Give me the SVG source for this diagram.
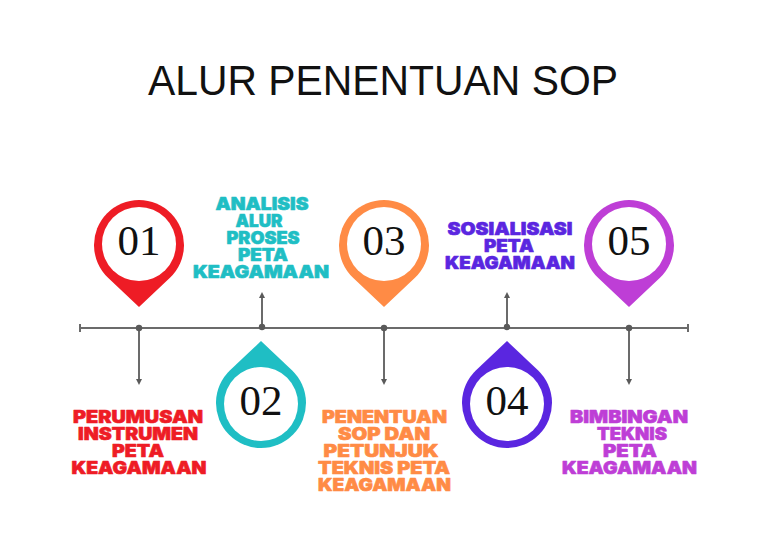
<svg xmlns="http://www.w3.org/2000/svg" xmlns:xlink="http://www.w3.org/1999/xlink" width="768" height="543" viewBox="0 0 768 543">
<style>
.title{font-family:"Liberation Sans",Arial,sans-serif;font-size:43px;fill:#111;}
.num{font-family:"Liberation Serif","Times New Roman",serif;font-size:43px;fill:#111;text-anchor:middle;}
.lbl{font-family:Inter,"DejaVu Sans",sans-serif;font-weight:900;font-size:17.5px;text-anchor:middle;stroke-width:0.6px;stroke-linejoin:round;}
.ln{stroke:#6b6b6b;stroke-width:2;fill:none;}
.dot{fill:#5a5a5a;}
</style>
<defs>
<path id="pinDown" d="M0,62 L-30.96,32.66 A45,45 0 1 1 30.96,32.66 Z"/>
<path id="pinUp" d="M0,-62 L-30.96,-32.66 A45,45 0 1 0 30.96,-32.66 Z"/>
<marker id="ah" viewBox="0 0 6 6" refX="3" refY="3" markerWidth="6" markerHeight="6" orient="auto" markerUnits="userSpaceOnUse">
<path d="M0,0 L6,3 L0,6 Z" fill="#5a5a5a"/>
</marker>
</defs>
<rect width="768" height="543" fill="#fff"/>
<text class="title" x="148" y="95" textLength="470" lengthAdjust="spacingAndGlyphs">ALUR PENENTUAN SOP</text>

<g id="connectors">
<line class="ln" x1="80" y1="328" x2="688" y2="328"/>
<line class="ln" x1="80" y1="324" x2="80" y2="332"/>
<line class="ln" x1="688" y1="324" x2="688" y2="332"/>
<line class="ln" x1="139" y1="328" x2="139" y2="382" marker-end="url(#ah)"/>
<line class="ln" x1="384" y1="328" x2="384" y2="382" marker-end="url(#ah)"/>
<line class="ln" x1="629" y1="328" x2="629" y2="382" marker-end="url(#ah)"/>
<line class="ln" x1="262" y1="328" x2="262" y2="295" marker-end="url(#ah)"/>
<line class="ln" x1="507" y1="328" x2="507" y2="295" marker-end="url(#ah)"/>
<circle class="dot" cx="139" cy="328" r="3.2"/>
<circle class="dot" cx="262" cy="327" r="3.2"/>
<circle class="dot" cx="384" cy="328" r="3.2"/>
<circle class="dot" cx="507" cy="327" r="3.2"/>
<circle class="dot" cx="629" cy="328" r="3.2"/>
</g>

<g id="node01" transform="translate(139,245)">
<use xlink:href="#pinDown" fill="#EE1C25"/>
<circle cx="0" cy="-1" r="37" fill="#fff"/>
<text class="num" x="0" y="10">01</text>
</g>
<g id="node02" transform="translate(261,403)">
<use xlink:href="#pinUp" fill="#1FBEC4"/>
<circle cx="0" cy="1" r="37" fill="#fff"/>
<text class="num" x="0" y="12">02</text>
</g>
<g id="node03" transform="translate(384,245)">
<use xlink:href="#pinDown" fill="#FF8B45"/>
<circle cx="0" cy="-1" r="37" fill="#fff"/>
<text class="num" x="0" y="10">03</text>
</g>
<g id="node04" transform="translate(507,403)">
<use xlink:href="#pinUp" fill="#5A26E0"/>
<circle cx="0" cy="1" r="37" fill="#fff"/>
<text class="num" x="0" y="12">04</text>
</g>
<g id="node05" transform="translate(629,245)">
<use xlink:href="#pinDown" fill="#BE3ED6"/>
<circle cx="0" cy="-1" r="37" fill="#fff"/>
<text class="num" x="0" y="10">05</text>
</g>

<g id="label01" class="lbl" fill="#EE1C25" stroke="#EE1C25">
<text x="138" y="423" textLength="130" lengthAdjust="spacingAndGlyphs">PERUMUSAN</text>
<text x="138" y="440" textLength="120" lengthAdjust="spacingAndGlyphs">INSTRUMEN</text>
<text x="138" y="457" textLength="52" lengthAdjust="spacingAndGlyphs">PETA</text>
<text x="139" y="474" textLength="135" lengthAdjust="spacingAndGlyphs">KEAGAMAAN</text>
</g>
<g id="label02" class="lbl" fill="#1FBEC4" stroke="#1FBEC4">
<text x="262" y="210" textLength="93" lengthAdjust="spacingAndGlyphs">ANALISIS</text>
<text x="259" y="227" textLength="47" lengthAdjust="spacingAndGlyphs">ALUR</text>
<text x="263" y="244" textLength="73" lengthAdjust="spacingAndGlyphs">PROSES</text>
<text x="263" y="261" textLength="50" lengthAdjust="spacingAndGlyphs">PETA</text>
<text x="261" y="278" textLength="136" lengthAdjust="spacingAndGlyphs">KEAGAMAAN</text>
</g>
<g id="label03" class="lbl" fill="#FF8B45" stroke="#FF8B45">
<text x="384.5" y="423" textLength="125" lengthAdjust="spacingAndGlyphs">PENENTUAN</text>
<text x="384" y="440" textLength="92" lengthAdjust="spacingAndGlyphs">SOP DAN</text>
<text x="381" y="457" textLength="115" lengthAdjust="spacingAndGlyphs">PETUNJUK</text>
<text x="384" y="474" textLength="132" lengthAdjust="spacingAndGlyphs">TEKNIS PETA</text>
<text x="384.5" y="491" textLength="133" lengthAdjust="spacingAndGlyphs">KEAGAMAAN</text>
</g>
<g id="label04" class="lbl" fill="#5A26E0" stroke="#5A26E0">
<text x="510" y="235" textLength="125" lengthAdjust="spacingAndGlyphs">SOSIALISASI</text>
<text x="509" y="252" textLength="50" lengthAdjust="spacingAndGlyphs">PETA</text>
<text x="510" y="269" textLength="130" lengthAdjust="spacingAndGlyphs">KEAGAMAAN</text>
</g>
<g id="label05" class="lbl" fill="#BE3ED6" stroke="#BE3ED6">
<text x="629" y="423" textLength="118" lengthAdjust="spacingAndGlyphs">BIMBINGAN</text>
<text x="632" y="440" textLength="70" lengthAdjust="spacingAndGlyphs">TEKNIS</text>
<text x="630" y="457" textLength="54" lengthAdjust="spacingAndGlyphs">PETA</text>
<text x="629.5" y="474" textLength="135" lengthAdjust="spacingAndGlyphs">KEAGAMAAN</text>
</g>
</svg>
